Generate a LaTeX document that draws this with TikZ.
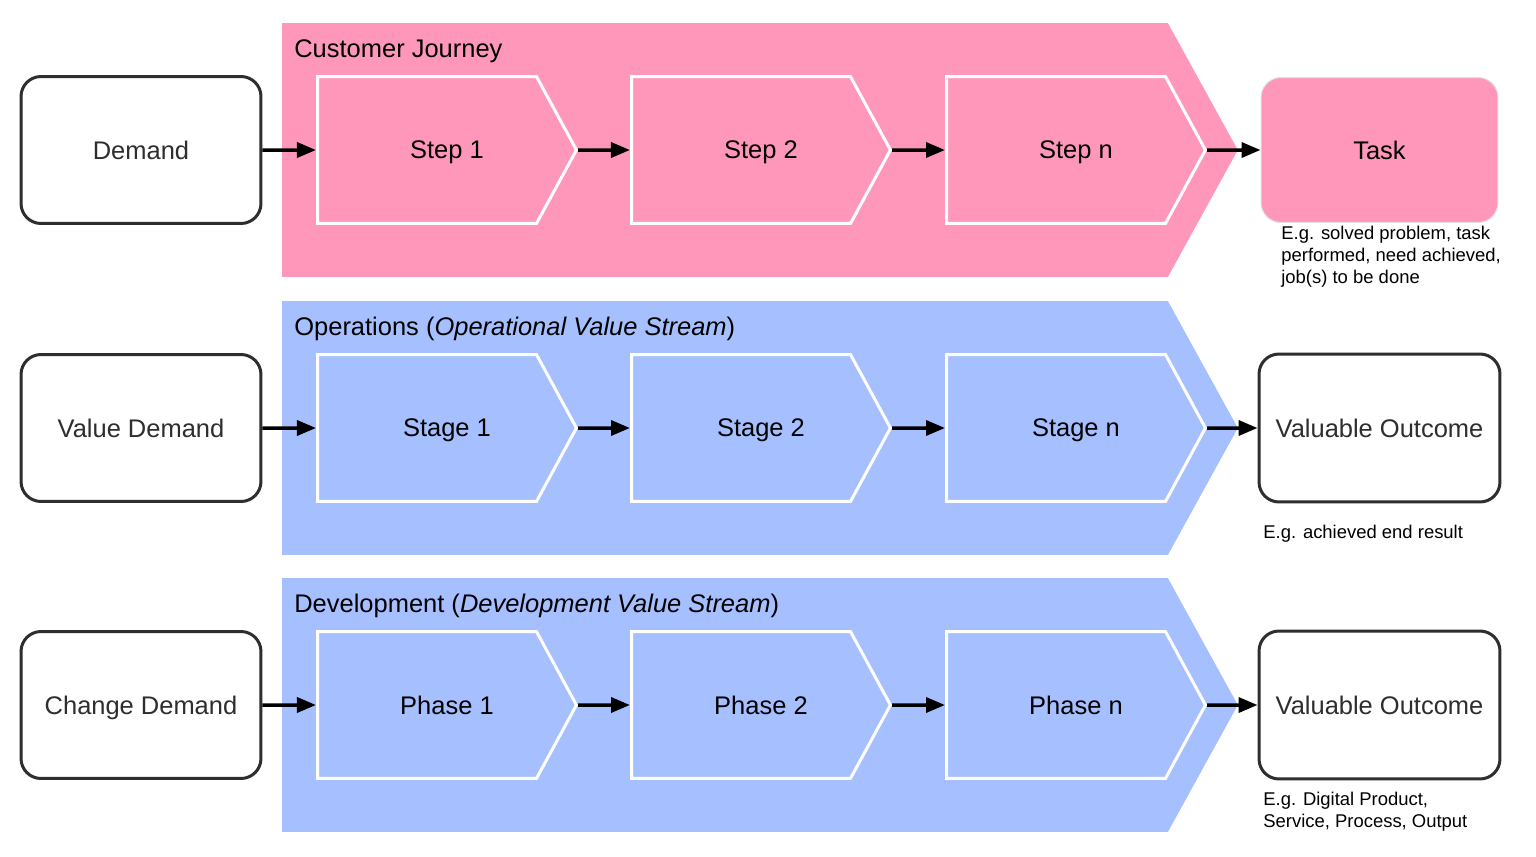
\documentclass[tikz,border=0pt]{standalone}
\usepackage{fontspec}
\setmainfont{Liberation Sans}
\usepackage{tikz}
\usetikzlibrary{shapes.symbols, arrows.meta, positioning}

\definecolor{journeypink}{HTML}{FF97BB}
\definecolor{streamblue}{HTML}{A5BFFF}
\definecolor{boxline}{HTML}{2E2E2E}

\begin{document}
\begin{tikzpicture}[
            x=0.02cm, y=-0.02cm,
            band/.style={
                signal, signal to=east, signal from=nowhere,
                signal pointer angle=122.3, anchor=west,
                minimum width=19.12cm, minimum height=5.08cm,
                inner sep=0pt, outer sep=0pt, draw=none
            },
            stagebox/.style={
                signal, signal to=east, signal from=nowhere,
                signal pointer angle=122.9, anchor=west,
                minimum width=5.18cm, minimum height=2.94cm,
                draw=white, line width=0.06cm, text depth=0pt,
                execute at begin node={\hspace*{0.8cm}},
                font=\fontsize{14.5}{17}\selectfont
            },
            endbox/.style={
                rectangle, rounded corners=0.4cm,
                minimum width=4.8cm, minimum height=2.94cm,
                draw=boxline, line width=0.06cm, fill=white,
                text=boxline, text depth=0pt,
                font=\fontsize{14.5}{17}\selectfont
            },
            bandtitle/.style={
                anchor=base west, inner sep=0pt,
                font=\fontsize{14.5}{17}\selectfont
            },
            note/.style={
                anchor=west, inner sep=0pt, align=left,
                font=\fontsize{10.5}{12.5}\selectfont
            },
            flow/.style={
                line width=0.07cm,
                -{Triangle[length=0.38cm, width=0.3cm]}
            }
        ]
            \useasboundingbox (0,0) rectangle (1536,856);

            % customer journey
            \node[band, fill=journeypink] (journey) at (282,150) {};
            \node[bandtitle] (journeytitle) at (294,57) {Customer Journey};
            \node[endbox] (demand) at (141,150) {Demand};
            \node[stagebox, fill=journeypink] (step1) at (316,150) {Step 1};
            \node[stagebox, fill=journeypink] (step2) at (630,150) {Step 2};
            \node[stagebox, fill=journeypink] (stepn) at (945,150) {Step n};
            \node[endbox, fill=journeypink, draw=black!12, line width=0.02cm,
                minimum width=4.74cm, minimum height=2.9cm, text=black] (task) at (1379.5,150) {Task};
            \node[note] (tasknote) at (1281,256.5) {E.g. solved problem, task\\performed, need achieved,\\job(s) to be done};

            % operations
            \node[band, fill=streamblue] (operations) at (282,428) {};
            \node[bandtitle] (operationstitle) at (294,335) {Operations (\textit{Operational Value Stream})};
            \node[endbox] (valuedemand) at (141,428) {Value Demand};
            \node[stagebox, fill=streamblue] (stage1) at (316,428) {Stage 1};
            \node[stagebox, fill=streamblue] (stage2) at (630,428) {Stage 2};
            \node[stagebox, fill=streamblue] (stagen) at (945,428) {Stage n};
            \node[endbox, minimum width=4.82cm, minimum height=2.96cm] (outcome1) at (1379.5,428) {Valuable Outcome};
            \node[note] (outcome1note) at (1263,534) {E.g. achieved end result};

            % development
            \node[band, fill=streamblue] (development) at (282,705) {};
            \node[bandtitle] (developmenttitle) at (294,612) {Development (\textit{Development Value Stream})};
            \node[endbox] (changedemand) at (141,705) {Change Demand};
            \node[stagebox, fill=streamblue] (phase1) at (316,705) {Phase 1};
            \node[stagebox, fill=streamblue] (phase2) at (630,705) {Phase 2};
            \node[stagebox, fill=streamblue] (phasen) at (945,705) {Phase n};
            \node[endbox, minimum width=4.82cm, minimum height=2.96cm] (outcome2) at (1379.5,705) {Valuable Outcome};
            \node[note] (outcome2note) at (1263,811.5) {E.g. Digital Product,\\Service, Process, Output};

            \draw[flow] (demand) -- (step1);
            \draw[flow] (step1) -- (step2);
            \draw[flow] (step2) -- (stepn);
            \draw[flow] (stepn) -- (task);

            \draw[flow] (valuedemand) -- (stage1);
            \draw[flow] (stage1) -- (stage2);
            \draw[flow] (stage2) -- (stagen);
            \draw[flow] (stagen) -- (outcome1);

            \draw[flow] (changedemand) -- (phase1);
            \draw[flow] (phase1) -- (phase2);
            \draw[flow] (phase2) -- (phasen);
            \draw[flow] (phasen) -- (outcome2);
        \end{tikzpicture}
\end{document}
